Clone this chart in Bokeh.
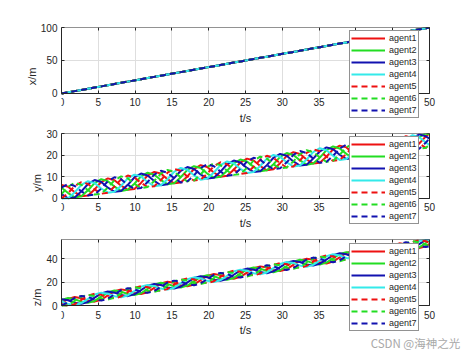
from bokeh.plotting import figure
from bokeh.layouts import column
from bokeh.models import (Range1d, FixedTicker, Legend, LegendItem, Label,
                          LinearAxis, BoxAnnotation)
from bokeh.embed import file_html
from bokeh.resources import INLINE

# ---- data ----
t_s = [0.0, 0.9, 1.8, 2.7, 3.6, 4.5, 5.4, 6.3, 7.2, 8.1, 9.0, 9.9, 10.8, 11.7, 12.6, 13.5,
       14.4, 15.3, 16.2, 17.1, 18.0, 18.9, 19.8, 20.7, 21.6, 22.5, 23.4, 24.3, 25.2, 26.1,
       27.0, 27.9, 28.8, 29.7, 30.6, 31.5, 32.4, 33.3, 34.2, 35.1, 36.0, 36.9, 37.8, 38.7,
       39.6, 40.5, 41.4, 42.3, 43.2, 44.1, 45.0, 45.9, 46.8, 47.7, 48.6, 49.5, 50.0]

x_m = [0.0, 1.8, 3.6, 5.4, 7.2, 9.0, 10.8, 12.6, 14.4, 16.2, 18.0, 19.8, 21.6, 23.4, 25.2,
       27.0, 28.8, 30.6, 32.4, 34.2, 36.0, 37.8, 39.6, 41.4, 43.2, 45.0, 46.8, 48.6, 50.4,
       52.2, 54.0, 55.8, 57.6, 59.4, 61.2, 63.0, 64.8, 66.6, 68.4, 70.2, 72.0, 73.8, 75.6,
       77.4, 79.2, 81.0, 82.8, 84.6, 86.4, 88.2, 90.0, 91.8, 93.6, 95.4, 97.2, 99.0, 100.0]

y_agent1 = [6.3, 5.4, 2.9, 1.0, 1.4, 4.2, 7.6, 9.3, 8.4, 5.9, 4.0, 4.4, 7.2, 10.6,
            12.3, 11.5, 8.9, 7.0, 7.4, 10.2, 13.6, 15.4, 14.5, 12.0, 10.0, 10.5, 13.3, 16.6,
            18.4, 17.5, 15.0, 13.0, 13.5, 16.3, 19.7, 21.4, 20.5, 18.0, 16.1, 16.5, 19.3, 22.7,
            24.4, 23.6, 21.0, 19.1, 19.5, 22.3, 25.7, 27.5, 26.6, 24.1, 22.1, 22.6, 25.4, 28.7,
            30.0]
y_agent2 = [5.0, 2.5, 0.5, 1.0, 3.8, 7.1, 8.9, 8.0, 5.5, 3.5, 4.0, 6.8, 10.2, 11.9,
            11.0, 8.5, 6.6, 7.0, 9.8, 13.2, 14.9, 14.1, 11.5, 9.6, 10.0, 12.8, 16.2, 18.0,
            17.1, 14.6, 12.6, 13.0, 15.8, 19.2, 21.0, 20.1, 17.6, 15.6, 16.1, 18.9, 22.3, 24.0,
            23.1, 20.6, 18.7, 19.1, 21.9, 25.3, 27.0, 26.2, 23.6, 21.7, 22.1, 24.9, 28.3, 30.0,
            29.6]
y_agent3 = [2.0, 0.1, 0.5, 3.3, 6.7, 8.5, 7.6, 5.0, 3.1, 3.5, 6.3, 9.7, 11.5, 10.6,
            8.1, 6.1, 6.6, 9.4, 12.8, 14.5, 13.6, 11.1, 9.2, 9.6, 12.4, 15.8, 17.5, 16.6,
            14.1, 12.2, 12.6, 15.4, 18.8, 20.6, 19.7, 17.1, 15.2, 15.6, 18.4, 21.8, 23.6, 22.7,
            20.2, 18.2, 18.7, 21.5, 24.9, 26.6, 25.7, 23.2, 21.3, 21.7, 24.5, 27.9, 29.6, 28.7,
            27.6]
y_agent4 = [0.0, 0.1, 2.9, 6.3, 8.0, 7.1, 4.6, 2.7, 3.1, 5.9, 9.3, 11.0, 10.2, 7.6,
            5.7, 6.1, 8.9, 12.3, 14.1, 13.2, 10.7, 8.7, 9.2, 12.0, 15.4, 17.1, 16.2, 13.7,
            11.8, 12.2, 15.0, 18.4, 20.1, 19.2, 16.7, 14.8, 15.2, 18.0, 21.4, 23.2, 22.3, 19.7,
            17.8, 18.2, 21.0, 24.4, 26.2, 25.3, 22.8, 20.8, 21.3, 24.1, 27.4, 29.2, 28.3, 25.8,
            24.8]
y_agent5 = [0.0, 2.5, 5.8, 7.6, 6.7, 4.2, 2.2, 2.7, 5.5, 8.9, 10.6, 9.7, 7.2, 5.3,
            5.7, 8.5, 11.9, 13.6, 12.8, 10.2, 8.3, 8.7, 11.5, 14.9, 16.7, 15.8, 13.3, 11.3,
            11.8, 14.6, 17.9, 19.7, 18.8, 16.3, 14.3, 14.8, 17.6, 21.0, 22.7, 21.8, 19.3, 17.4,
            17.8, 20.6, 24.0, 25.7, 24.9, 22.3, 20.4, 20.8, 23.6, 27.0, 28.8, 27.9, 25.4, 23.4,
            23.3]
y_agent6 = [2.0, 5.4, 7.2, 6.3, 3.8, 1.8, 2.2, 5.0, 8.4, 10.2, 9.3, 6.8, 4.8, 5.3,
            8.1, 11.5, 13.2, 12.3, 9.8, 7.9, 8.3, 11.1, 14.5, 16.2, 15.4, 12.8, 10.9, 11.3,
            14.1, 17.5, 19.3, 18.4, 15.8, 13.9, 14.3, 17.1, 20.5, 22.3, 21.4, 18.9, 16.9, 17.4,
            20.2, 23.6, 25.3, 24.4, 21.9, 20.0, 20.4, 23.2, 26.6, 28.3, 27.4, 24.9, 23.0, 23.4,
            24.8]
y_agent7 = [5.0, 6.7, 5.8, 3.3, 1.4, 1.8, 4.6, 8.0, 9.8, 8.9, 6.3, 4.4, 4.8, 7.6,
            11.0, 12.8, 11.9, 9.4, 7.4, 7.9, 10.7, 14.1, 15.8, 14.9, 12.4, 10.5, 10.9, 13.7,
            17.1, 18.8, 17.9, 15.4, 13.5, 13.9, 16.7, 20.1, 21.9, 21.0, 18.4, 16.5, 16.9, 19.7,
            23.1, 24.9, 24.0, 21.5, 19.5, 20.0, 22.8, 26.2, 27.9, 27.0, 24.5, 22.6, 23.0, 25.8,
            27.8]

z_agent1 = [2.0, 5.7, 7.3, 6.3, 4.2, 3.3, 4.9, 8.6, 12.2, 13.8, 12.9, 10.8, 9.8, 11.4,
            15.1, 18.8, 20.4, 19.4, 17.3, 16.4, 18.0, 21.7, 25.3, 26.9, 26.0, 23.9, 22.9, 24.5,
            28.2, 31.9, 33.5, 32.5, 30.4, 29.5, 31.1, 34.8, 38.4, 40.0, 39.1, 37.0, 36.0, 37.6,
            41.3, 45.0, 46.6, 45.6, 43.5, 42.6, 44.2, 47.9, 51.5, 53.2, 52.2, 50.1, 49.1, 50.7,
            52.7]
z_agent2 = [4.7, 6.4, 5.4, 3.3, 2.3, 3.9, 7.6, 11.3, 12.9, 11.9, 9.8, 8.9, 10.5, 14.2,
            17.8, 19.5, 18.5, 16.4, 15.4, 17.0, 20.7, 24.4, 26.0, 25.1, 22.9, 22.0, 23.6, 27.3,
            31.0, 32.6, 31.6, 29.5, 28.5, 30.2, 33.8, 37.5, 39.1, 38.2, 36.1, 35.1, 36.7, 40.4,
            44.1, 45.7, 44.7, 42.6, 41.7, 43.3, 46.9, 50.6, 52.2, 51.3, 49.2, 48.2, 49.8, 53.5,
            55.6]
z_agent3 = [5.4, 4.5, 2.4, 1.4, 3.0, 6.7, 10.4, 12.0, 11.0, 8.9, 8.0, 9.6, 13.2, 16.9,
            18.5, 17.6, 15.5, 14.5, 16.1, 19.8, 23.5, 25.1, 24.1, 22.0, 21.1, 22.7, 26.3, 30.0,
            31.6, 30.7, 28.6, 27.6, 29.2, 32.9, 36.6, 38.2, 37.2, 35.1, 34.2, 35.8, 39.4, 43.1,
            44.7, 43.8, 41.7, 40.7, 42.3, 46.0, 49.7, 51.3, 50.3, 48.2, 47.3, 48.9, 52.5, 56.2,
            56.4]
z_agent4 = [3.5, 1.4, 0.5, 2.1, 5.7, 9.4, 11.0, 10.1, 8.0, 7.0, 8.6, 12.3, 16.0, 17.6,
            16.6, 14.5, 13.6, 15.2, 18.9, 22.5, 24.1, 23.2, 21.1, 20.1, 21.7, 25.4, 29.1, 30.7,
            29.7, 27.6, 26.7, 28.3, 32.0, 35.6, 37.2, 36.3, 34.2, 33.2, 34.8, 38.5, 42.2, 43.8,
            42.8, 40.7, 39.8, 41.4, 45.1, 48.7, 50.3, 49.4, 47.3, 46.3, 47.9, 51.6, 55.3, 56.4,
            56.0]
z_agent5 = [0.5, 0.0, 1.1, 4.8, 8.5, 10.1, 9.1, 7.0, 6.1, 7.7, 11.4, 15.0, 16.6, 15.7,
            13.6, 12.6, 14.2, 17.9, 21.6, 23.2, 22.2, 20.1, 19.2, 20.8, 24.5, 28.1, 29.8, 28.8,
            26.7, 25.7, 27.3, 31.0, 34.7, 36.3, 35.3, 33.2, 32.3, 33.9, 37.6, 41.2, 42.9, 41.9,
            39.8, 38.8, 40.4, 44.1, 47.8, 49.4, 48.5, 46.3, 45.4, 47.0, 50.7, 54.4, 56.0, 55.0,
            53.8]
z_agent6 = [0.0, 0.2, 3.9, 7.6, 9.2, 8.2, 6.1, 5.1, 6.8, 10.4, 14.1, 15.7, 14.8, 12.7,
            11.7, 13.3, 17.0, 20.7, 22.3, 21.3, 19.2, 18.3, 19.9, 23.5, 27.2, 28.8, 27.9, 25.8,
            24.8, 26.4, 30.1, 33.8, 35.4, 34.4, 32.3, 31.4, 33.0, 36.6, 40.3, 41.9, 41.0, 38.9,
            37.9, 39.5, 43.2, 46.9, 48.5, 47.5, 45.4, 44.5, 46.1, 49.7, 53.4, 55.0, 54.1, 52.0,
            51.2]
z_agent7 = [0.0, 2.9, 6.6, 8.2, 7.3, 5.2, 4.2, 5.8, 9.5, 13.2, 14.8, 13.8, 11.7, 10.8,
            12.4, 16.0, 19.7, 21.3, 20.4, 18.3, 17.3, 18.9, 22.6, 26.3, 27.9, 26.9, 24.8, 23.9,
            25.5, 29.1, 32.8, 34.4, 33.5, 31.4, 30.4, 32.0, 35.7, 39.4, 41.0, 40.0, 37.9, 37.0,
            38.6, 42.3, 45.9, 47.5, 46.6, 44.5, 43.5, 45.1, 48.8, 52.5, 54.1, 53.1, 51.0, 50.1,
            50.6]

agent_names = ["agent1", "agent2", "agent3", "agent4", "agent5", "agent6", "agent7"]
agent_colors = ["#ee1111", "#22dd22", "#1212b0", "#33eaea", "#ee1111", "#22dd22", "#1212b0"]
agent_dashes = ["solid", "solid", "solid", "solid", "6 4", "6 4", "6 4"]

t_ticks = [0, 5, 10, 15, 20, 25, 30, 35, 40, 45, 50]
x_ticks = [0, 50, 100]
y_ticks = [0, 10, 20, 30]
z_ticks = [0, 20, 40]

FONT = "Liberation Sans"
DARK = "#262626"
T_END = 50
T_VIEW_END = 56.11   # frame reaches the right edge of the page; t = 50 sits at x = 429


def style_axis(ax):
    ax.major_tick_in = 3
    ax.major_tick_out = 0
    ax.minor_tick_line_color = None
    ax.axis_line_color = DARK
    ax.major_tick_line_color = DARK
    ax.major_label_text_font = FONT
    ax.major_label_text_font_size = "10px"
    ax.major_label_text_color = DARK
    ax.axis_label_text_font = FONT
    ax.axis_label_text_font_size = "11px"
    ax.axis_label_text_font_style = "normal"
    ax.axis_label_text_color = DARK
    ax.axis_label_standoff = 2


def make_panel(series, y_end, y_low, ticks, ylabel, height, top, leg_y):
    # the frame runs down to the bottom (and right edge) of the figure so that the
    # legend, which hangs below the axes box as in the reference, is not clipped;
    # the t axis is pinned at y = 0 and the right box edge at t = 50
    p = figure(width=474, height=height, output_backend="svg", toolbar_location=None,
               x_range=Range1d(0, T_VIEW_END), y_range=Range1d(y_low, y_end),
               min_border_left=61, min_border_right=0,
               min_border_top=top, min_border_bottom=0)
    p.background_fill_color = "white"
    p.border_fill_color = "white"
    p.outline_line_color = None

    p.xaxis.ticker = FixedTicker(ticks=t_ticks)
    p.yaxis.ticker = FixedTicker(ticks=ticks)
    p.xaxis.axis_label = "t/s"
    p.yaxis.axis_label = ylabel
    style_axis(p.xaxis[0])
    style_axis(p.yaxis[0])
    p.xaxis[0].fixed_location = 0
    p.xaxis[0].bounds = (0, T_END)
    p.xaxis.major_label_standoff = 5
    p.yaxis.major_label_standoff = 4
    p.yaxis.axis_label_standoff = 0
    p.yaxis[0].bounds = (0, y_end)
    p.grid.grid_line_color = "#dedede"
    p.grid.grid_line_width = 1

    # mask the grid outside the axes box
    p.add_layout(BoxAnnotation(top=0, fill_color="white", fill_alpha=1.0,
                               line_color=None, level="underlay"))
    p.add_layout(BoxAnnotation(left=T_END, fill_color="white", fill_alpha=1.0,
                               line_color=None, level="underlay"))

    # box: top and right edges with inward ticks, as in the reference
    top_ax = LinearAxis(fixed_location=y_end, ticker=FixedTicker(ticks=t_ticks),
                        bounds=(0, T_END))
    style_axis(top_ax)
    top_ax.major_label_text_color = None
    p.add_layout(top_ax, "above")
    right_ax = LinearAxis(fixed_location=T_END, ticker=FixedTicker(ticks=ticks),
                          bounds=(0, y_end))
    style_axis(right_ax)
    right_ax.major_label_text_color = None
    p.add_layout(right_ax, "right")

    items = []
    for name, ys, c, d in zip(agent_names, series, agent_colors, agent_dashes):
        r = p.line(t_s, ys, line_color=c, line_width=2, line_dash=d)
        items.append(LegendItem(label=name, renderers=[r]))

    leg = Legend(items=items, location=(288, leg_y),
                 label_text_font=FONT, label_text_font_size="9px",
                 label_text_color=DARK,
                 label_height=12, glyph_height=12, glyph_width=34,
                 label_standoff=4, padding=1, spacing=0, margin=0,
                 border_line_color=DARK, border_line_width=1,
                 background_fill_color="white", background_fill_alpha=1.0)
    p.add_layout(leg)
    return p


p1 = make_panel([x_m] * 7, 100, -48.5, x_ticks, "x/m", 125, 27, 7)
p2 = make_panel([y_agent1, y_agent2, y_agent3, y_agent4, y_agent5, y_agent6, y_agent7],
                30, -15.7, y_ticks, "y/m", 107, 8, 8)
p3 = make_panel([z_agent1, z_agent2, z_agent3, z_agent4, z_agent5, z_agent6, z_agent7],
                56.5, -42.8, z_ticks, "z/m", 123, 7, 24)

p3.add_layout(Label(x=42.0, y=-31.7, text="CSDN @海神之光", text_font="Noto Sans CJK SC",
                    text_font_size="11.5px", text_color="#a8a8a8",
                    text_baseline="middle"))

layout = column(p1, p2, p3, spacing=0)
open("out.html", "w").write(file_html(layout, INLINE))
